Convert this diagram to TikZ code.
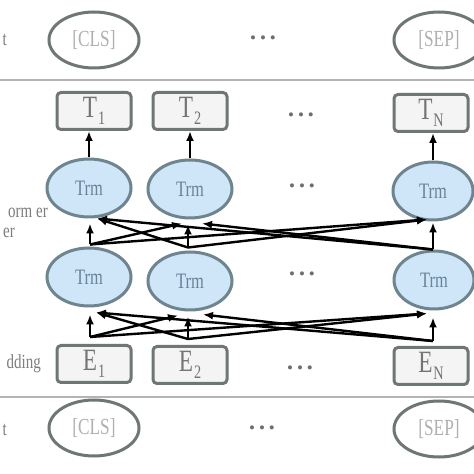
\documentclass[tikz,border=0pt]{standalone}
\usepackage{fontspec}
\setmainfont{Liberation Serif}
\newfontfamily\nserif[FakeStretch=0.75]{Liberation Serif}
\usetikzlibrary{arrows.meta,shapes.geometric,calc}
\definecolor{boxfill}{HTML}{F4F4F4}
\definecolor{boxline}{HTML}{6E7676}
\definecolor{boxtext}{HTML}{747474}
\definecolor{trmfill}{HTML}{CFE5F8}
\definecolor{trmline}{HTML}{6E848E}
\definecolor{trmtext}{HTML}{68849A}
\definecolor{spectext}{HTML}{B0B0B0}
\definecolor{dotcol}{HTML}{6E6E6E}
\definecolor{labeltext}{HTML}{7E7E7E}
\definecolor{sepcol}{HTML}{B4B4B4}
\newcommand{\lowidx}[1]{\hspace{1pt}\raisebox{-7pt}{\fontsize{19}{19}\selectfont #1}}
\newcommand{\threedots}{\textbullet\hspace{4pt}\textbullet\hspace{4pt}\textbullet}
\begin{document}
\begin{tikzpicture}[x=1pt,y=1pt,
 tokbox/.style={draw=boxline, fill=boxfill, line width=3pt, rounded corners=4pt,
   minimum width=74pt, minimum height=37pt, inner sep=0pt, text=boxtext,
   font=\nserif\fontsize{31}{31}\selectfont},
 trm/.style={ellipse, draw=trmline, fill=trmfill, line width=3pt,
   minimum width=84pt, minimum height=58pt, inner sep=0pt, text=trmtext,
   font=\nserif\fontsize{22}{22}\selectfont},
 special/.style={ellipse, draw=boxline, fill=white, line width=3pt,
   minimum width=90pt, minimum height=56pt, inner sep=0pt, text=spectext,
   font=\nserif\fontsize{23}{23}\selectfont},
 dotsrow/.style={text=dotcol, inner sep=0pt, font=\fontsize{17}{17}\selectfont},
 sidelabel/.style={anchor=east, text=labeltext, inner sep=0pt,
   font=\nserif\fontsize{20}{20}\selectfont},
 conn/.style={line width=2.4pt, -{Latex[length=10pt,width=8pt]}},
 sepline/.style={draw=sepcol, line width=1.3pt}]
\useasboundingbox (0,0) rectangle (474,474);
\fill[white] (0,0) rectangle (474,474);
\begin{scope}
\clip (0,0) rectangle (474,474);

% side labels (clipped by the page edge)
\node[sidelabel] (lout) at (7,434) {t};
\node[sidelabel] (ltr1) at (48,261) {orm er};
\node[sidelabel] (ltr2) at (15,241) {er};
\node[sidelabel] (lemb) at (41,110) {dding};
\node[sidelabel] (lin) at (7,44) {t};

% separators
\coordinate (s1l) at (0,394); \coordinate (s1r) at (474,394);
\coordinate (s2l) at (0,77);  \coordinate (s2r) at (474,77);
\draw[sepline] (s1l) -- (s1r);
\draw[sepline] (s2l) -- (s2r);

% top special tokens
\node[special] (oc) at (94,434) {[CLS]};
\node[special] (os) at (439,434) {[SEP]};
\node[dotsrow] (od) at (263,434) {\threedots};

% output T boxes
\node[tokbox] (T1) at (94,363) {T\lowidx{1}};
\node[tokbox] (T2) at (190,363) {T\lowidx{2}};
\node[tokbox] (TN) at (431,361) {T\lowidx{N}};
\node[dotsrow] (Td) at (301,357) {\threedots};

% upper Trm row
\node[trm] (U1) at (89,286) {Trm};
\node[trm] (U2) at (190,285) {Trm};
\node[trm,minimum width=80pt] (UN) at (433,283) {Trm};
\node[dotsrow] (Ud) at (302,286) {\threedots};

% lower Trm row
\node[trm] (L1) at (89,197) {Trm};
\node[trm] (L2) at (190,193) {Trm};
\node[trm,minimum width=80pt] (LN) at (434,194) {Trm};
\node[dotsrow] (Ld) at (302,198) {\threedots};

% embeddings
\node[tokbox] (E1) at (94,110) {E\lowidx{1}};
\node[tokbox] (E2) at (190,109) {E\lowidx{2}};
\node[tokbox] (EN) at (431,108) {E\lowidx{N}};
\node[dotsrow] (Ed) at (300,104) {\threedots};

% bottom special tokens
\node[special] (ic) at (94,46) {[CLS]};
\node[special] (is) at (439,45) {[SEP]};
\node[dotsrow] (id) at (262,44) {\threedots};

% Trm -> T arrows
\draw[conn] (U1.north) -- (U1.north |- T1.south);
\draw[conn] (U2.north) -- (U2.north |- T2.south);
\draw[conn] (UN.north) -- (UN.north |- TN.south);

% ---- embeddings -> lower Trm
\coordinate (eb1) at ($(L1.south |- E1.north)+(1,7)$);
\coordinate (eb2) at ($(L2.south |- E2.north)+(-2,6)$);
\coordinate (ebN) at ($(LN.south |- EN.north)+(-1,5)$);
\coordinate (lv1) at ($(L1.south)+(1,-7)$);
\coordinate (lv2) at ($(L2.south)+(-2,-5)$);
\coordinate (lvN) at ($(LN.south)+(-1,-7)$);
\coordinate (ld1) at ($(L1.south)+(7,-5)$);
\coordinate (ld2l) at ($(L2.south)+(-12,-4)$);
\coordinate (ld2r) at ($(L2.south)+(13,-3)$);
\coordinate (ldN) at ($(LN.south)+(-7,-3)$);
\draw[conn] (eb1) -- (lv1);
\draw[conn] (eb1) -- (ld2l);
\draw[conn] (eb1) -- (ldN);
\draw[conn] (eb2) -- (lv2);
\draw[conn] (eb2) -- (ld1);
\draw[conn] (eb2) -- (ldN);
\draw[conn] (ebN) -- (lvN);
\draw[conn] (ebN) -- (ld1);
\draw[conn] (ebN) -- (ld2r);

% ---- lower Trm -> upper Trm
\coordinate (lb1) at ($(L1.north)+(1,2)$);
\coordinate (lb2) at ($(L2.north)+(-2,3)$);
\coordinate (lbN) at ($(LN.north)+(-1,0)$);
\coordinate (uv1) at ($(U1.south)+(1,-5)$);
\coordinate (uv2) at ($(U2.south)+(-2,-5)$);
\coordinate (uvN) at ($(UN.south)+(0,-1)$);
\coordinate (ud1) at ($(U1.south)+(8,0)$);
\coordinate (ud2l) at ($(U2.south)+(-8,-4)$);
\coordinate (ud2r) at ($(U2.south)+(12,-4)$);
\coordinate (udN) at ($(UN.south)+(-6,2)$);
\draw[conn] (lb1) -- (uv1);
\draw[conn] (lb1) -- (ud2l);
\draw[conn] (lb1) -- (udN);
\draw[conn] (lb2) -- (uv2);
\draw[conn] (lb2) -- (ud1);
\draw[conn] (lb2) -- (udN);
\draw[conn] (lbN) -- (uvN);
\draw[conn] (lbN) -- (ud1);
\draw[conn] (lbN) -- (ud2r);
\end{scope}
\end{tikzpicture}
\end{document}
